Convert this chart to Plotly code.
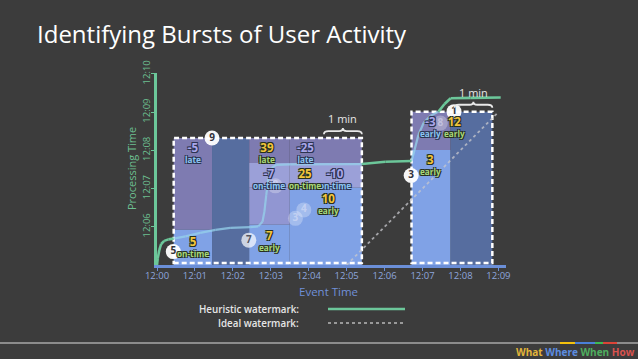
import plotly.graph_objects as go

# ---------------- data ----------------
x_tick_vals = [0, 1, 2, 3, 4, 5, 6, 7, 8, 9]
x_tick_text = ["12:00", "12:01", "12:02", "12:03", "12:04", "12:05", "12:06", "12:07", "12:08", "12:09"]
y_tick_vals = [1, 2, 3, 4, 5]
y_tick_text = ["12:06", "12:07", "12:08", "12:09", "12:10"]

# events: event time (min after 12:00), processing time (min after 12:05)
ev_event = [0.43, 1.45, 2.42, 3.12, 3.65, 3.87, 6.70, 7.47, 7.83]
ev_proc = [0.35, 3.32, 0.65, 2.07, 1.22, 1.44, 2.34, 3.71, 4.01]
ev_value = ["5", "9", "7", "8", "3", "4", "3", "8", "1"]
ev_layer = ["front", "front", "mid", "back", "back", "back", "front", "back", "front"]

# session windows
win_start = [0.44, 6.71]
win_end = [5.40, 8.84]
win_top = [3.32, 4.01]
gap_minutes = [1, 1]

# panes inside windows
pane_x0 = [0.44, 0.44, 1.45, 2.43, 2.43, 2.43, 2.43, 3.50, 3.50, 3.50, 6.71, 6.71, 7.74]
pane_x1 = [1.45, 1.45, 2.43, 3.50, 3.50, 3.50, 3.50, 5.40, 5.40, 5.40, 7.74, 7.74, 8.84]
pane_y0 = [0.92, 0.00, 0.00, 2.67, 2.02, 1.05, 0.00, 2.67, 2.02, 0.00, 3.01, 0.00, 0.00]
pane_y1 = [3.32, 0.92, 3.32, 3.32, 2.67, 2.02, 1.05, 3.32, 2.67, 2.02, 4.01, 3.01, 4.01]
pane_kind = ["late", "early", "idle", "late", "ontime", "mid", "early", "late", "ontime", "early",
             "late", "early", "idle"]

# heuristic watermark
heur_x = [0.00, 0.02, 0.06, 0.11, 0.19, 0.30, 0.44, 0.75, 1.14, 1.54, 1.93, 2.46, 2.67, 2.78, 2.83,
          2.88, 2.94, 3.02, 3.15, 3.52, 5.40, 6.02, 6.71, 6.79, 6.89, 7.03, 7.21, 7.42, 7.58, 7.74,
          8.27, 9.06]
heur_y = [0.00, 0.18, 0.39, 0.55, 0.63, 0.67, 0.69, 0.75, 0.84, 0.92, 0.97, 0.99, 1.01, 1.13, 1.39,
          1.83, 2.28, 2.54, 2.62, 2.63, 2.64, 2.70, 2.72, 3.01, 3.40, 3.72, 3.90, 4.01, 4.21, 4.36,
          4.37, 4.38]

# ideal watermark
ideal_x = [5.0, 9.0]
ideal_y = [0.0, 4.0]

# pane results (position of the number)
lab_x = [0.95, 2.90, 3.91, 2.94, 4.70, 3.91, 4.53, 0.95, 2.97, 7.21, 7.84, 7.21]
lab_y = [3.08, 3.08, 3.08, 2.38, 2.38, 2.38, 1.75, 0.61, 0.76, 3.75, 3.75, 2.77]
lab_value = [-5, 39, -25, -7, -10, 25, 10, 5, 7, -3, 12, 3]
lab_timing = ["late", "late", "late", "on-time", "on-time", "on-time", "early", "on-time", "early",
              "early", "early", "early"]

# ---------------- layout constants ----------------
W, H = 638, 359
ML, MR, MT, MB = 157, 132, 73, 94
PW, PH = W - ML - MR, H - MT - MB
BG = "#3c3c3c"
GREEN = "#6cc79a"
BLUE_AX = "#6b8fd8"
FONT = "Open Sans"

PANE_COLORS = {"late": "#7e7bb1", "early": "#80a2e6", "idle": "#566d9f",
               "ontime": "#9ba0d8", "mid": "#9196d2"}


def pxx(px):
    return (px - ML) / PW


def pxy(py):
    return (H - MB - py) / PH


fig = go.Figure()

# panes
for x0, x1, y0, y1, k in zip(pane_x0, pane_x1, pane_y0, pane_y1, pane_kind):
    fig.add_shape(type="rect", x0=x0, x1=x1, y0=y0, y1=y1, xref="x", yref="y",
                  fillcolor=PANE_COLORS[k], line_width=0, layer="below")

# window borders + "1 min" braces
for s, e, t, g in zip(win_start, win_end, win_top, gap_minutes):
    fig.add_shape(type="rect", x0=s, x1=e, y0=0.05, y1=t, xref="x", yref="y",
                  line=dict(color="white", width=2.5, dash="5px,3px"),
                  fillcolor="rgba(0,0,0,0)", layer="below")
    a, b = e - g, e
    m = (a + b) / 2
    yb = t + 0.10
    hh = 0.16
    yh = yb + hh / 2
    w = b - a
    path = (f"M {a},{yb} Q {a},{yh} {a + w * 0.12},{yh} L {m - w * 0.1},{yh} "
            f"Q {m},{yh} {m},{yb + hh} Q {m},{yh} {m + w * 0.1},{yh} "
            f"L {b - w * 0.12},{yh} Q {b},{yh} {b},{yb}")
    fig.add_shape(type="path", path=path, xref="x", yref="y",
                  line=dict(color="#e8e8e8", width=1.8), layer="above")
    fig.add_annotation(x=m, y=t + 0.50, xref="x", yref="y", text="1 min", showarrow=False,
                       xanchor="center", yanchor="middle",
                       font=dict(family=FONT, size=11, color="#e6e6e6"))


# heuristic watermark split into inside / outside window parts
def inside(x, y):
    for s, e, t in zip(win_start, win_end, win_top):
        if s <= x <= e and y <= t:
            return True
    return False


in_x, in_y, out_x, out_y = [], [], [], []
for i in range(len(heur_x) - 1):
    mx = (heur_x[i] + heur_x[i + 1]) / 2
    my = (heur_y[i] + heur_y[i + 1]) / 2
    tx, ty = (in_x, in_y) if inside(mx, my) else (out_x, out_y)
    tx += [heur_x[i], heur_x[i + 1], None]
    ty += [heur_y[i], heur_y[i + 1], None]

fig.add_trace(go.Scatter(x=in_x, y=in_y, mode="lines", line=dict(color="rgba(150,210,235,0.75)", width=2.2),
                         hoverinfo="skip", showlegend=False))
fig.add_trace(go.Scatter(x=out_x, y=out_y, mode="lines", line=dict(color=GREEN, width=2.6),
                         hoverinfo="skip", showlegend=False))
fig.add_trace(go.Scatter(x=ideal_x, y=ideal_y, mode="lines",
                         line=dict(color="rgba(200,200,205,0.75)", width=1.8, dash="dot"),
                         hoverinfo="skip", showlegend=False))

# events
op = {"front": 0.95, "mid": 0.7, "back": 0.28}
mcol = [f"rgba(255,255,255,{op[l]})" for l in ev_layer]
tcol = [f"rgba(50,50,60,{min(1, op[l] + 0.1)})" if l != "back" else "rgba(235,235,250,0.45)" for l in ev_layer]
fig.add_trace(go.Scatter(x=ev_event, y=ev_proc, mode="markers+text", text=ev_value,
                         textposition="middle center",
                         textfont=dict(family=FONT, size=10, color=tcol, weight="bold"),
                         marker=dict(size=15, color=mcol, line=dict(width=0)),
                         hoverinfo="skip", showlegend=False))


def outline(c):
    return f"-1px -1px 0 {c}, 1px -1px 0 {c}, -1px 1px 0 {c}, 1px 1px 0 {c}"


for x, y, v, tm in zip(lab_x, lab_y, lab_value, lab_timing):
    pos = v > 0
    ncol = "#f2c53d" if pos else "#a9a6ea"
    tgcol = "#a9d879" if pos else "#8cc6f2"
    oc = "#26301c" if pos else "#2c3450"
    txt = (f"<b><span style='font-size:11.5px;color:{ncol}'>{v}</span></b><br>"
           f"<b><span style='color:{tgcol}'>{tm}</span></b>")
    fig.add_annotation(x=x, y=y, yshift=-5, xref="x", yref="y", text=txt, showarrow=False,
                       xanchor="center", yanchor="middle", borderpad=0,
                       font=dict(family=FONT, size=8.2, color=tgcol, shadow=outline(oc)))

# title and axis titles
fig.add_annotation(x=pxx(35), y=pxy(33), xref="paper", yref="paper", xanchor="left", yanchor="middle",
                   text="Identifying Bursts of User Activity", showarrow=False,
                   font=dict(family=FONT, size=24, color="#ffffff"))
fig.add_annotation(x=pxx(131), y=pxy(169), xref="paper", yref="paper", text="Processing Time",
                   xanchor="center", yanchor="middle",
                   textangle=-90, showarrow=False, font=dict(family=FONT, size=11, color="#6cbf90"))
fig.add_annotation(x=pxx(328), y=pxy(291), xref="paper", yref="paper", text="Event Time",
                   xanchor="center", yanchor="middle",
                   showarrow=False, font=dict(family=FONT, size=11.5, color="#7090d8"))

# legend
fig.add_annotation(x=pxx(301), y=pxy(309), xref="paper", yref="paper", xanchor="right", yanchor="middle",
                   text="Heuristic watermark:",
                   showarrow=False, font=dict(family=FONT, size=9.8, color="#e6e6e6", weight=600))
fig.add_annotation(x=pxx(301), y=pxy(323), xref="paper", yref="paper", xanchor="right", yanchor="middle",
                   text="Ideal watermark:",
                   showarrow=False, font=dict(family=FONT, size=9.8, color="#e6e6e6", weight=600))
fig.add_shape(type="line", xref="paper", yref="paper", x0=pxx(328), x1=pxx(405), y0=pxy(309), y1=pxy(309),
              line=dict(color=GREEN, width=2.5))
fig.add_shape(type="line", xref="paper", yref="paper", x0=pxx(328), x1=pxx(405), y0=pxy(323), y1=pxy(323),
              line=dict(color="#b8b8b8", width=1.6, dash="dot"))

# footer
fig.add_shape(type="line", xref="paper", yref="paper", x0=pxx(0), x1=pxx(638), y0=pxy(343), y1=pxy(343),
              line=dict(color="#8c8c8c", width=2))
for a, b, c in [(560, 575, "#f4c20d"), (575, 595, "#4a7fd8"), (595, 603, "#3cba54"), (603, 617, "#db4437")]:
    fig.add_shape(type="line", xref="paper", yref="paper", x0=pxx(a), x1=pxx(b), y0=pxy(343), y1=pxy(343),
                  line=dict(color=c, width=2))
fig.add_annotation(x=pxx(636), y=pxy(352), xref="paper", yref="paper", xanchor="right", yanchor="middle",
                   text="<b><span style='color:#e2b53a'>What</span> <span style='color:#5c8de0'>Where</span> "
                        "<span style='color:#4fae5f'>When</span> <span style='color:#d9534f'>How</span></b>",
                   showarrow=False, borderpad=0, font=dict(family=FONT, size=10))

fig.update_layout(
    width=W, height=H,
    margin=dict(l=ML, r=MR, t=MT, b=MB, autoexpand=False),
    paper_bgcolor=BG, plot_bgcolor=BG,
    showlegend=False,
    xaxis=dict(range=[0, 9.2], tickvals=x_tick_vals, ticktext=x_tick_text, showgrid=False, zeroline=False,
               showline=True, linecolor=BLUE_AX, linewidth=3, ticks="outside", ticklen=3, tickcolor=BLUE_AX,
               ticklabelstandoff=-3,
               tickfont=dict(family=FONT, size=9.5, color="#8ea6dc"), fixedrange=True),
    yaxis=dict(range=[0, 5.02], tickvals=y_tick_vals, ticktext=y_tick_text, showgrid=False, zeroline=False,
               showline=True, linecolor=GREEN, linewidth=2.5, ticks="outside", ticklen=3, tickcolor=GREEN,
               ticklabelstandoff=-3,
               tickangle=-90, tickfont=dict(family=FONT, size=9.5, color="#6cbf90"), fixedrange=True),
)

fig.write_html("out.html", config={"displayModeBar": False},
               post_script="document.body.style.margin='0px';document.body.style.overflow='hidden';")
